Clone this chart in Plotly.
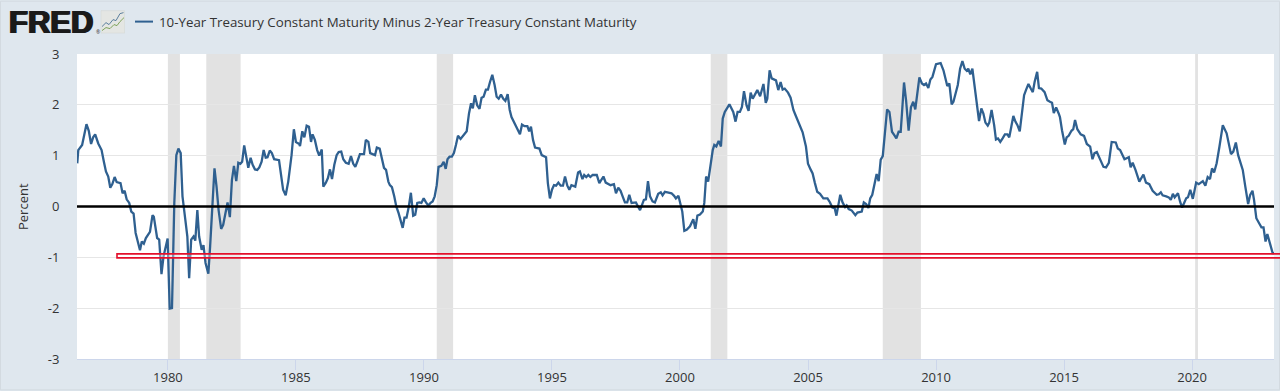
import plotly.graph_objects as go

SERIES_NAME = "10-Year Treasury Constant Maturity Minus 2-Year Treasury Constant Maturity"
YEARS = [
1976.46,1976.50,1976.65,1976.82,1976.91,1977.00,1977.08,1977.16,1977.28,1977.41,1977.50,1977.58,1977.67,1977.75,1977.83,1977.92,1978.00,1978.15,1978.23,1978.31,1978.39,1978.49,1978.57,1978.66,1978.74,1978.82,1978.91,1978.98,1979.06,1979.14,1979.30,1979.40,1979.45,1979.58,1979.66,1979.75,1979.83,1979.99,
1980.07,1980.16,1980.25,1980.33,1980.41,1980.50,1980.57,1980.68,1980.76,1980.83,1980.91,1981.00,1981.07,1981.15,1981.22,1981.32,1981.39,1981.47,1981.58,1981.65,1981.74,1981.82,1981.90,1981.98,1982.08,1982.16,1982.33,1982.42,1982.50,1982.58,1982.67,1982.75,1982.83,1982.90,1982.98,1983.06,1983.14,1983.23,1983.31,1983.40,1983.49,1983.57,1983.66,1983.74,1983.82,1983.89,1983.98,1984.06,1984.15,1984.34,1984.43,1984.50,1984.60,1984.70,1984.83,1984.92,1985.00,1985.13,
1985.16,1985.25,1985.33,1985.42,1985.51,1985.59,1985.65,1985.74,1985.83,1985.91,1986.01,1986.07,1986.17,1986.25,1986.33,1986.41,1986.50,1986.59,1986.67,1986.77,1986.85,1986.95,1987.06,1987.15,1987.24,1987.32,1987.41,1987.50,1987.66,1987.73,1987.83,1987.90,1988.09,1988.16,1988.27,1988.36,1988.44,1988.52,1988.61,1988.67,1988.75,1988.84,1988.92,1989.01,1989.09,1989.17,1989.24,1989.32,1989.41,1989.49,1989.58,1989.66,1989.74,1989.82,1989.90,1989.99,
1990.08,1990.17,1990.26,1990.34,1990.42,1990.50,1990.57,1990.68,1990.77,1990.85,1990.92,1991.00,1991.09,1991.17,1991.25,1991.33,1991.43,1991.54,1991.67,1991.76,1991.84,1991.91,1991.99,1992.08,1992.17,1992.25,1992.33,1992.42,1992.50,1992.58,1992.67,1992.76,1992.84,1992.92,1993.01,1993.10,1993.18,1993.27,1993.35,1993.42,1993.50,1993.58,1993.67,1993.75,1993.83,1993.93,1994.04,1994.11,1994.18,1994.26,1994.34,1994.51,1994.60,1994.77,1994.84,
1994.92,1995.00,1995.08,1995.16,1995.25,1995.34,1995.43,1995.51,1995.60,1995.68,1995.76,1995.91,1996.02,1996.09,1996.19,1996.26,1996.34,1996.42,1996.50,1996.59,1996.75,1996.85,1997.01,1997.10,1997.20,1997.29,1997.42,1997.50,1997.59,1997.68,1997.76,1997.85,1997.94,1998.02,1998.11,1998.20,1998.28,1998.36,1998.44,1998.59,1998.67,1998.75,1998.83,1998.93,1999.02,1999.15,1999.25,1999.32,1999.41,1999.51,1999.58,1999.67,1999.77,1999.84,1999.94,
2000.03,2000.09,2000.17,2000.26,2000.39,2000.52,2000.60,2000.68,2000.78,2000.89,2000.95,2001.02,2001.10,2001.20,2001.28,2001.34,2001.42,2001.51,2001.60,2001.67,2001.75,2001.93,2002.08,2002.17,2002.25,2002.34,2002.42,2002.50,2002.60,2002.68,2002.76,2002.84,2002.92,2003.02,2003.13,2003.26,2003.35,2003.41,2003.50,2003.58,2003.75,2003.84,2003.93,2004.01,2004.09,2004.22,2004.32,2004.43,2004.51,2004.61,
2004.69,2004.79,2004.92,2005.00,2005.10,2005.18,2005.27,2005.36,2005.47,2005.60,2005.76,2005.86,2005.95,2006.04,2006.11,2006.20,2006.26,2006.35,2006.45,2006.51,2006.59,2006.71,2006.85,2006.93,2007.10,2007.18,2007.27,2007.36,2007.43,2007.51,2007.60,2007.68,2007.76,2007.84,2007.92,2008.00,2008.09,2008.18,2008.28,2008.39,2008.45,2008.54,2008.62,2008.67,2008.75,2008.83,2008.93,2009.02,2009.11,2009.19,2009.27,2009.35,2009.45,2009.53,2009.61,2009.70,2009.78,2009.86,
2010.00,2010.18,2010.29,2010.38,2010.44,2010.52,2010.61,2010.68,2010.78,2010.85,2010.94,2011.03,2011.12,2011.20,2011.26,2011.34,2011.42,2011.48,2011.59,2011.68,2011.77,2011.85,2011.93,2012.02,2012.08,2012.17,2012.27,2012.34,2012.42,2012.51,2012.60,2012.69,2012.79,2012.86,2012.94,2013.02,2013.10,2013.18,2013.27,2013.35,2013.44,2013.52,2013.61,2013.70,2013.78,2013.85,2013.95,2014.02,2014.11,2014.24,2014.35,2014.45,2014.53,2014.60,2014.69,2014.79,
2014.84,2014.92,2015.03,2015.10,2015.18,2015.29,2015.36,2015.43,2015.52,2015.65,2015.78,2015.89,2016.02,2016.11,2016.19,2016.28,2016.41,2016.54,2016.64,2016.75,2016.86,2017.02,2017.10,2017.19,2017.36,2017.53,2017.60,2017.68,2017.79,2017.94,2018.10,2018.20,2018.33,2018.46,2018.62,2018.70,2018.78,2018.85,2018.99,2019.09,2019.17,2019.25,2019.32,2019.45,2019.53,2019.61,2019.69,2019.77,2019.84,2019.93,
2020.03,2020.16,2020.26,2020.42,2020.52,2020.61,2020.70,2020.78,2020.86,2020.96,2021.07,2021.20,2021.35,2021.52,2021.61,2021.71,2021.80,2021.88,2021.98,2022.08,2022.19,2022.27,2022.36,2022.42,2022.51,2022.63,2022.71,2022.79,2022.87,2022.94,2023.05,2023.15,2023.20]
SPREAD = [
0.85,1.11,1.21,1.62,1.49,1.23,1.36,1.42,1.24,1.11,0.88,0.69,0.59,0.37,0.44,0.58,0.48,0.46,0.26,0.31,0.14,0.07,-0.10,-0.14,-0.52,-0.69,-0.86,-0.69,-0.73,-0.62,-0.50,-0.17,-0.20,-0.62,-0.65,-1.33,-0.98,-0.63,
-2.01,-2.00,0.07,1.01,1.14,1.05,0.20,-0.26,-0.59,-1.41,-0.65,-0.59,-0.67,-0.07,-0.59,-0.85,-0.76,-1.11,-1.32,-0.78,0.07,0.75,0.39,-0.07,-0.44,-0.36,0.08,-0.21,0.52,0.80,0.50,0.86,0.84,0.88,1.20,0.98,0.76,0.96,0.82,0.73,0.72,0.77,0.88,1.11,0.96,0.97,1.10,1.05,0.93,0.91,0.62,0.33,0.22,0.49,1.01,1.52,1.27,1.23,
1.19,1.48,1.36,1.59,1.57,1.27,1.42,1.31,1.11,1.00,1.12,0.39,0.47,0.56,0.73,0.54,0.82,1.01,1.07,1.08,0.93,0.86,0.84,0.99,0.84,0.78,0.90,1.03,1.03,1.31,1.27,1.05,1.01,1.16,1.14,0.95,0.76,0.72,0.49,0.42,0.38,0.20,0.00,-0.13,-0.26,-0.42,-0.22,-0.22,0.00,0.27,-0.18,-0.16,0.07,0.08,0.07,0.16,
0.08,0.02,0.07,0.10,0.20,0.42,0.78,0.80,0.88,0.74,0.93,0.98,0.98,1.05,1.21,1.39,1.33,1.41,1.48,1.83,2.03,1.93,2.19,1.99,1.92,2.14,2.16,2.30,2.30,2.45,2.59,2.39,2.16,2.12,2.20,2.12,2.08,2.21,1.90,1.76,1.68,1.57,1.49,1.42,1.61,1.58,1.58,1.48,1.57,1.31,1.16,1.14,1.01,0.97,0.46,
0.16,0.33,0.42,0.41,0.47,0.41,0.41,0.59,0.41,0.33,0.42,0.39,0.67,0.69,0.54,0.62,0.58,0.62,0.58,0.62,0.62,0.46,0.59,0.47,0.44,0.42,0.44,0.26,0.37,0.31,0.20,0.08,0.08,0.23,0.07,0.07,0.08,0.00,-0.07,0.13,0.14,0.50,0.20,0.10,0.08,0.25,0.28,0.22,0.29,0.28,0.27,0.26,0.21,0.16,0.21,
0.00,-0.10,-0.48,-0.46,-0.39,-0.25,-0.44,-0.18,-0.16,-0.10,0.07,0.59,0.49,0.82,1.11,1.21,1.18,1.29,1.18,1.73,1.86,2.01,1.86,1.67,1.86,1.86,1.96,2.27,1.99,1.88,2.24,2.12,2.21,2.29,2.17,2.41,2.04,2.12,2.68,2.52,2.48,2.29,2.45,2.30,2.32,2.24,2.14,1.90,1.80,1.67,
1.56,1.46,1.18,0.84,0.73,0.65,0.46,0.29,0.25,0.16,0.16,0.08,-0.02,-0.03,-0.18,0.07,0.23,0.08,-0.01,0.02,-0.05,-0.08,-0.17,-0.12,-0.10,0.08,0.05,-0.03,0.16,0.23,0.42,0.64,0.50,0.92,0.99,1.44,1.91,1.86,1.47,1.39,1.34,1.47,1.47,1.83,2.44,2.09,1.49,1.95,2.06,1.91,2.22,2.54,2.42,2.39,2.42,2.33,2.50,2.55,
2.80,2.82,2.68,2.52,2.37,2.42,2.01,2.06,2.29,2.39,2.71,2.86,2.71,2.67,2.71,2.60,2.71,2.48,1.99,1.68,1.93,1.83,1.65,1.59,1.65,1.90,1.60,1.32,1.34,1.27,1.34,1.42,1.42,1.36,1.57,1.78,1.67,1.60,1.48,1.83,2.19,2.30,2.41,2.32,2.25,2.45,2.65,2.33,2.32,2.25,2.09,2.06,2.04,1.84,1.95,1.83,
1.76,1.50,1.22,1.36,1.39,1.49,1.52,1.70,1.52,1.42,1.39,1.23,1.18,0.93,1.05,1.07,0.93,0.78,0.77,0.86,1.27,1.26,1.14,1.11,0.93,0.97,0.77,0.86,0.72,0.49,0.63,0.47,0.44,0.31,0.23,0.24,0.28,0.22,0.20,0.18,0.13,0.25,0.18,0.26,0.10,-0.02,0.07,0.16,0.18,0.33,
0.15,0.47,0.44,0.50,0.41,0.58,0.54,0.75,0.67,0.85,1.18,1.60,1.44,1.03,1.08,1.26,1.01,0.88,0.72,0.39,0.05,0.23,0.31,0.13,-0.23,-0.34,-0.41,-0.41,-0.69,-0.54,-0.72,-0.92,-0.92]
RECESSION_START = [1980.0, 1981.5, 1990.5, 2001.2, 2007.92, 2020.12]
RECESSION_END = [1980.47, 1982.84, 1991.14, 2001.85, 2009.41, 2020.23]
X_TICKS = [1980, 1985, 1990, 1995, 2000, 2005, 2010, 2015, 2020]
Y_TICKS = [-3, -2, -1, 0, 1, 2, 3]
X_RANGE = [1976.45, 2023.2]
Y_RANGE = [-3, 3]

W, H = 1280, 391
L, R, T, B = 77, 1274, 53.5, 359.5
BG = "#DFE7EE"
LINE = "#2F6090"
TXT = "#333333"
FONT = "Open Sans"

def px(v):
    return (v - L) / (R - L)
def py(v):
    return (B - v) / (B - T)

fig = go.Figure()
fig.add_trace(go.Scatter(x=YEARS, y=SPREAD, mode="lines", name=SERIES_NAME,
                         line=dict(color=LINE, width=2.3), showlegend=False, hoverinfo="x+y"))

shapes = []
# page border
shapes.append(dict(type="rect", xref="paper", yref="paper", x0=px(0.5), x1=px(1279.5), y0=py(390.5), y1=py(0.5),
                   line=dict(color="#D3DAE0", width=1), fillcolor="rgba(0,0,0,0)", layer="below"))
for a, b in zip(RECESSION_START, RECESSION_END):
    shapes.append(dict(type="rect", xref="x", yref="paper", x0=a, x1=b, y0=0, y1=1,
                       fillcolor="#E2E2E2", line_width=0, layer="between"))
# zero reference line
shapes.append(dict(type="line", xref="paper", yref="y", x0=0, x1=1, y0=0, y1=0,
                   line=dict(color="black", width=2.5), layer="above"))
# red highlight box
shapes.append(dict(type="rect", xref="paper", yref="paper", x0=px(117), x1=px(1281), y0=py(258), y1=py(254),
                   line=dict(color="#E3102B", width=1.6), fillcolor="rgba(255,255,255,0.35)", layer="above"))
# legend sample
shapes.append(dict(type="line", xref="paper", yref="paper", x0=px(135), x1=px(153), y0=py(21), y1=py(21),
                   line=dict(color=LINE, width=2)))
# logo icon
shapes.append(dict(type="rect", xref="paper", yref="paper", x0=px(101), x1=px(124.5), y0=py(32.5), y1=py(10),
                   fillcolor="#E4E6E3", line=dict(color="#D3D6D3", width=0.5)))
def poly(pts):
    return "M" + " L".join(f"{px(a):.5f},{py(b):.5f}" for a, b in pts)
shapes.append(dict(type="path", xref="paper", yref="paper",
                   path=poly([(102, 26), (106, 22), (109, 24), (113, 19), (116, 20), (120, 13), (123.5, 12)]),
                   line=dict(color="#5B7F9E", width=1)))
shapes.append(dict(type="path", xref="paper", yref="paper",
                   path=poly([(102, 30), (106, 27), (110, 28), (114, 24), (117, 25), (120, 21), (124, 17)]),
                   line=dict(color="#7FA35A", width=1)))

annotations = [
    dict(text="<b>FRED</b>", xref="paper", yref="paper", x=px(8), y=py(21.5), xanchor="left", yanchor="middle",
         showarrow=False, borderpad=0, font=dict(family="Liberation Sans", size=31, color="#1A1A1A",
                                    shadow="1px 0 0 #1A1A1A, -1px 0 0 #1A1A1A")),
    dict(text="®", xref="paper", yref="paper", x=px(98), y=py(31), xanchor="center", yanchor="middle",
         showarrow=False, borderpad=0, font=dict(family=FONT, size=5, color="#333333")),
    dict(text=SERIES_NAME, xref="paper", yref="paper", x=px(157), y=py(21), xanchor="left", yanchor="middle",
         showarrow=False, font=dict(family=FONT, size=13.3, color=TXT)),
    dict(text="Percent", xref="paper", yref="paper", x=px(23), y=py(207), xanchor="center", yanchor="middle",
         textangle=-90, showarrow=False, font=dict(family=FONT, size=13, color=TXT)),
]

fig.update_layout(
    width=W, height=H, autosize=False, paper_bgcolor=BG, plot_bgcolor="white",
    margin=dict(l=L, r=W - R, t=T, b=H - B, pad=0, autoexpand=False),
    shapes=shapes, annotations=annotations, showlegend=False,
    xaxis=dict(range=X_RANGE, tickvals=X_TICKS, ticktext=[str(t) for t in X_TICKS], showgrid=False, zeroline=False,
               automargin=False, ticks="outside", ticklen=10, tickwidth=1, tickcolor="#CCD6EB", showline=True,
               linecolor="#CCD6EB", linewidth=1, ticklabelstandoff=-4, tickfont=dict(family=FONT, size=13, color=TXT)),
    yaxis=dict(range=Y_RANGE, tickvals=Y_TICKS, ticktext=[str(t) for t in Y_TICKS], showgrid=True,
               gridcolor="#E6E6E6", gridwidth=1, zeroline=False,
               automargin=False, ticks="outside", ticklen=14, tickcolor="rgba(0,0,0,0)", showline=False,
               tickfont=dict(family=FONT, size=13, color=TXT)),
)
fig.write_html("out.html", post_script="document.body.style.margin='0';", config=dict(displayModeBar=False))
